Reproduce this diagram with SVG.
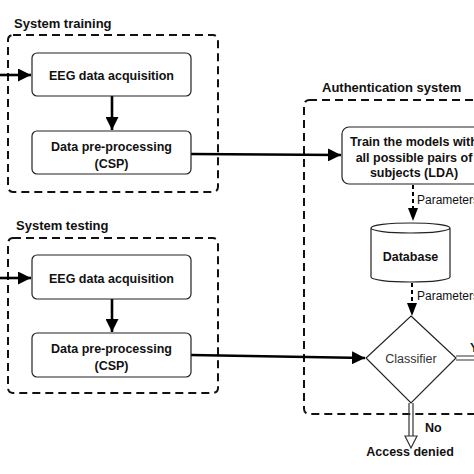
<svg xmlns="http://www.w3.org/2000/svg" width="474" height="474" viewBox="0 0 474 474">
<defs>
<style>
text{font-family:"Liberation Sans",Arial,sans-serif;fill:#111}
.t{font-size:13px;font-weight:bold}
.b{font-size:12.5px;font-weight:bold}
.r{font-size:12px}
.grp{fill:none;stroke:#111;stroke-width:2;stroke-dasharray:8,5}
.box{fill:#fff;stroke:#222;stroke-width:1.2}
.ln{fill:none;stroke:#000;stroke-width:2.6}
.dl{fill:none;stroke:#000;stroke-width:2;stroke-dasharray:4,3}
</style>
<marker id="ah" viewBox="0 0 10 10" refX="10" refY="5" markerWidth="5" markerHeight="5" orient="auto" markerUnits="strokeWidth">
<path d="M0,0 L10,5 L0,10 z" fill="#000"/>
</marker>
</defs>

<g id="training">
<text class="t" x="14" y="28">System training</text>
<rect class="grp" x="8" y="35" width="210" height="157" rx="5"/>
</g>
<g id="testing">
<text class="t" x="16" y="230">System testing</text>
<rect class="grp" x="8" y="238" width="210" height="155" rx="5"/>
</g>
<g id="auth">
<text class="t" x="322" y="92">Authentication system</text>
<rect class="grp" x="304" y="100" width="200" height="314" rx="5"/>
</g>

<g id="connectors">
<line class="ln" x1="0" y1="75" x2="31" y2="75" marker-end="url(#ah)"/>
<line class="ln" x1="112" y1="96" x2="112" y2="130" marker-end="url(#ah)"/>
<line class="ln" x1="191" y1="154" x2="341" y2="155" marker-end="url(#ah)"/>
<line class="ln" x1="0" y1="278" x2="31" y2="278" marker-end="url(#ah)"/>
<line class="ln" x1="112" y1="299" x2="112" y2="332" marker-end="url(#ah)"/>
<line class="ln" x1="191" y1="355" x2="365" y2="358" marker-end="url(#ah)"/>
<line class="dl" x1="413" y1="185" x2="413" y2="210"/>
<path d="M408,208 L418,208 L413,221 z" fill="#000"/>
<line class="dl" x1="412" y1="283" x2="412" y2="304"/>
<path d="M407,303 L417,303 L412,316 z" fill="#000"/>
<path d="M456,356 L474,356 M456,360 L474,360" stroke="#333" stroke-width="1.2" fill="none"/>
<path d="M409,403 L409,437 M413,403 L413,437" stroke="#333" stroke-width="1.2" fill="none"/>
<path d="M405,436 L417,436 L411,448 z" fill="#fff" stroke="#333" stroke-width="1.2"/>
<text class="r" x="417" y="204">Parameters</text>
<text class="r" x="417" y="300">Parameters</text>
<text class="b" x="425" y="432">No</text>
<text class="b" x="470" y="352">Yes</text>
</g>

<g id="eeg1">
<rect class="box" x="32" y="53" width="159" height="43" rx="5"/>
<text class="b" x="111.5" y="79.5" text-anchor="middle">EEG data acquisition</text>
</g>
<g id="pre1">
<rect class="box" x="32" y="131" width="159" height="43" rx="5"/>
<text class="b" x="111.5" y="150.5" text-anchor="middle">Data pre-processing</text>
<text class="b" x="111.5" y="167.5" text-anchor="middle">(CSP)</text>
</g>
<g id="eeg2">
<rect class="box" x="32" y="255" width="159" height="44" rx="5"/>
<text class="b" x="111.5" y="282.5" text-anchor="middle">EEG data acquisition</text>
</g>
<g id="pre2">
<rect class="box" x="32" y="333" width="159" height="44" rx="5"/>
<text class="b" x="111.5" y="352.5" text-anchor="middle">Data pre-processing</text>
<text class="b" x="111.5" y="369.5" text-anchor="middle">(CSP)</text>
</g>
<g id="train">
<rect class="box" x="342" y="127" width="144" height="57" rx="7"/>
<text class="b" x="414" y="145.5" text-anchor="middle">Train the models with</text>
<text class="b" x="414" y="161.5" text-anchor="middle">all possible pairs of</text>
<text class="b" x="414" y="177" text-anchor="middle">subjects (LDA)</text>
</g>
<g id="database">
<path d="M371,228 L371,277 A39.5,5 0 0 0 450,277 L450,228 A39.5,5 0 0 0 371,228 A39.5,5 0 0 0 450,228" fill="#fff" stroke="#222" stroke-width="1.2"/>
<text class="b" x="410.5" y="260.5" text-anchor="middle">Database</text>
</g>
<g id="classifier">
<path d="M411,316 L456,358 L411,403 L366,358 z" fill="#fff" stroke="#222" stroke-width="1.2"/>
<text x="411" y="362.5" text-anchor="middle" style="font-size:12.5px;fill:#333">Classifier</text>
</g>
<g id="denied">
<text class="b" x="410" y="456" text-anchor="middle">Access denied</text>
</g>
</svg>
